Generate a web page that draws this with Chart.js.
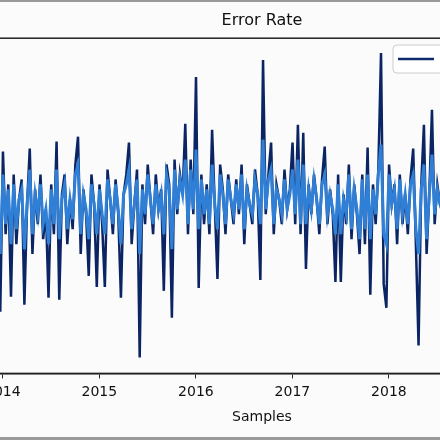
<!DOCTYPE html>
<html>
<head>
<meta charset="utf-8">
<script src="https://cdn.jsdelivr.net/npm/chart.js@4/dist/chart.umd.min.js"></script>
<style>
  html, body { margin: 0; padding: 0; width: 440px; height: 440px; overflow: hidden; background: #fbfbfb; }
  #wrap { position: absolute; left: -30px; top: 0; width: 584px; height: 440px; }
  .band { position: absolute; left: 0; width: 440px; background: #9a9a9a; z-index: 2; }
</style>
</head>
<body>
<div class="band" style="top:0;height:2px"></div>
<div class="band" style="top:437px;height:3px"></div>
<div id="wrap"><canvas id="chart"></canvas></div>
<script>
// weekly-ish samples, first one just before 2014
const firstSample = 2013.918;
const samplesPerYear = 36;

const navyValues = [
  180, 150, 62, 223, 140, 190, 77, 200, 130, 175,
  195, 69, 170, 226, 120, 185, 150, 200, 135, 165,
  76, 190, 140, 233, 74, 180, 200, 130, 175, 145,
  210, 238, 120, 185, 160, 98, 200, 170, 87, 190,
  150, 87, 205, 175, 140, 195, 160, 76, 180, 200,
  232, 130, 170, 205, 16, 190, 150, 210, 175, 140,
  200, 165, 185, 83, 210, 190, 56, 215, 160, 200,
  180, 251, 140, 215, 160, 298, 86, 200, 150, 190,
  140, 245, 170, 95, 210, 185, 140, 200, 175, 150,
  195, 160, 210, 130, 190, 170, 150, 205, 180, 94,
  315, 160, 200, 232, 140, 190, 175, 150, 205, 165,
  185, 232, 150, 250, 140, 242, 105, 190, 160, 200,
  175, 140, 195, 228, 150, 185, 160, 92, 200, 92,
  180, 150, 210, 135, 190, 160, 120, 200, 130, 227,
  79, 190, 150, 205, 322, 90, 66, 210, 170, 190,
  130, 200, 150, 180, 140, 195, 226, 130, 28, 190,
  250, 120, 180, 265, 150, 190, 170, 160, 180, 175
];

const lightValues = [
  175, 160, 120, 200, 150, 185, 130, 190, 145, 175,
  185, 125, 170, 205, 140, 180, 160, 190, 150, 165,
  130, 185, 150, 205, 135, 175, 190, 145, 175, 155,
  200, 210, 140, 180, 165, 135, 190, 170, 140, 185,
  160, 140, 195, 175, 150, 190, 165, 130, 180, 190,
  205, 145, 170, 195, 120, 185, 160, 200, 175, 150,
  190, 165, 180, 140, 200, 185, 125, 205, 165, 195,
  180, 215, 150, 205, 165, 225, 145, 195, 160, 185,
  150, 210, 170, 145, 200, 180, 150, 195, 175, 160,
  190, 165, 200, 145, 185, 170, 160, 195, 180, 150,
  235, 165, 195, 205, 150, 185, 175, 160, 195, 165,
  180, 205, 160, 215, 150, 210, 150, 185, 165, 195,
  175, 150, 190, 200, 160, 180, 165, 140, 190, 140,
  175, 160, 200, 145, 185, 165, 135, 195, 145, 200,
  135, 185, 160, 200, 230, 140, 130, 200, 170, 185,
  145, 195, 160, 180, 150, 190, 200, 145, 120, 185,
  210, 135, 180, 220, 160, 185, 170, 165, 180, 175
];

const yearTicks = [2014, 2015, 2016, 2017, 2018, 2019];

const sampleYears = navyValues.map((v, i) => firstSample + i / samplesPerYear);

function toPoints(values) {
  return values.map((v, i) => ({ x: sampleYears[i], y: v }));
}

const frameAndLegend = {
  id: 'frameAndLegend',
  afterDraw(chart) {
    const ctx = chart.ctx;
    const a = chart.chartArea;
    ctx.save();
    ctx.strokeStyle = '#222';
    ctx.lineWidth = 1.5;
    ctx.strokeRect(a.left, a.top, a.right - a.left, a.bottom - a.top);
    // legend box (partly outside the window)
    ctx.fillStyle = 'rgba(255,255,255,0.85)';
    ctx.strokeStyle = '#cccccc';
    ctx.lineWidth = 1;
    ctx.beginPath();
    ctx.roundRect(423, 45, 90, 28, 4);
    ctx.fill();
    ctx.stroke();
    ctx.strokeStyle = '#0d2a6e';
    ctx.lineWidth = 2.5;
    ctx.beginPath();
    ctx.moveTo(428, 59);
    ctx.lineTo(464, 59);
    ctx.stroke();
    ctx.restore();
  }
};

new Chart(document.getElementById('chart'), {
  type: 'line',
  data: {
    datasets: [
      {
        label: 'light',
        data: toPoints(lightValues),
        borderColor: '#2f7fd6',
        borderWidth: 3,
        pointRadius: 0,
        tension: 0,
        order: 0
      },
      {
        label: 'navy',
        data: toPoints(navyValues),
        borderColor: '#0b2463',
        borderWidth: 2.5,
        pointRadius: 0,
        tension: 0,
        order: 1
      }
    ]
  },
  options: {
    responsive: true,
    maintainAspectRatio: false,
    animation: false,
    layout: { padding: { left: 0, right: 0, top: 0, bottom: 14 } },
    plugins: {
      legend: { display: false },
      tooltip: { enabled: false },
      title: {
        display: true,
        text: 'Error Rate',
        color: '#111',
        font: { family: 'DejaVu Sans', size: 16, weight: 'normal' },
        padding: { top: 11, bottom: 8 }
      }
    },
    scales: {
      x: {
        type: 'linear',
        min: 2013.66,
        max: 2019.71,
        afterBuildTicks(scale) {
          scale.ticks = yearTicks.map(v => ({ value: v }));
        },
        ticks: {
          color: '#111',
          font: { family: 'DejaVu Sans', size: 14 },
          maxRotation: 0,
          padding: 6,
          callback: v => String(v)
        },
        grid: { drawOnChartArea: false, color: '#222', tickLength: 5 },
        border: { color: '#222', width: 1.5 },
        title: {
          display: true,
          text: 'Samples',
          color: '#111',
          font: { family: 'DejaVu Sans', size: 14 },
          padding: { top: 2, bottom: 0 }
        }
      },
      y: {
        display: false,
        min: 0,
        max: 337
      }
    }
  },
  plugins: [frameAndLegend]
});
</script>
</body>
</html>
